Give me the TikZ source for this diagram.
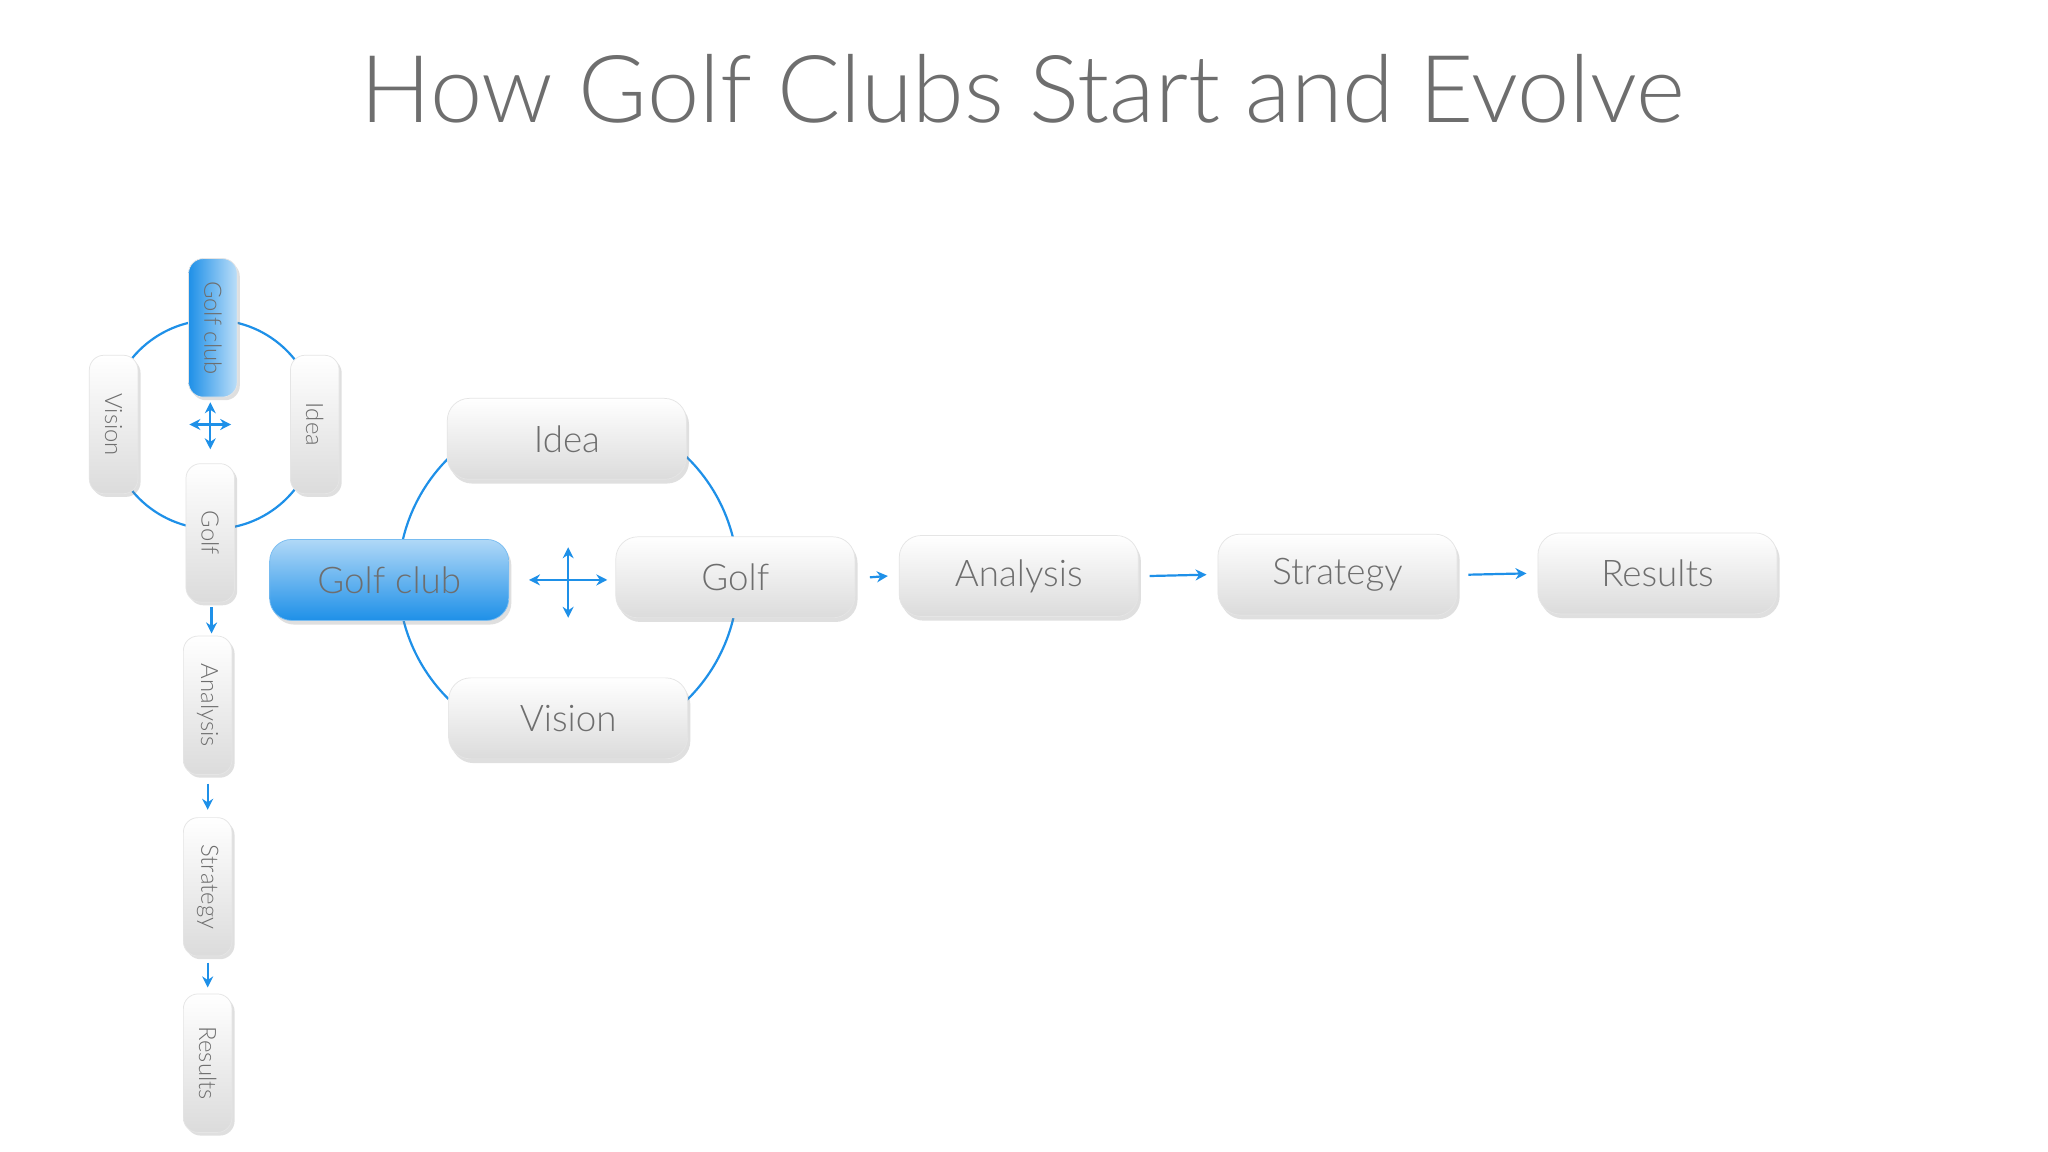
\documentclass[tikz,border=0pt]{standalone}
\usepackage{fontspec}
\setmainfont{Lato Light}
\usetikzlibrary{shadows,arrows.meta,calc}
\definecolor{txt}{HTML}{6E6E6E}
\definecolor{bl}{HTML}{1E90E8}
\tikzset{
 box/.style={rounded corners=12pt, minimum width=4.575cm, minimum height=1.55cm, top color=white, bottom color=gray!28, draw=gray!20, drop shadow={opacity=0.25,shadow xshift=0.05cm,shadow yshift=-0.08cm}, text=txt, font=\fontsize{20}{24}\selectfont},
 bluebox/.style={box, top color=bl!35, bottom color=bl, draw=bl!60, text=txt},
 sbox/.style={rounded corners=8pt, minimum width=2.65cm, minimum height=0.93cm, top color=white, bottom color=gray!28, draw=gray!20, drop shadow={opacity=0.25,shadow xshift=0.05cm,shadow yshift=-0.06cm}, text=txt, font=\fontsize{13}{15}\selectfont, rotate=-90},
 sbluebox/.style={sbox, left color=bl, right color=bl!30},
 conn/.style={bl, line width=1.2pt},
 arr/.style={conn, -{Stealth[length=6pt,width=6pt]}},
 darr/.style={conn, {Stealth[length=6pt,width=6pt]}-{Stealth[length=6pt,width=6pt]}},
}
\begin{document}
\begin{tikzpicture}[x=0.025cm,y=-0.025cm]
\useasboundingbox[fill=white] (0,0) rectangle (1568,882);
\node[text=txt,font=\fontsize{51}{60}\selectfont] (title) at (783,68) {How Golf Clubs Start and Evolve};
% big diagram
\draw[conn] (435,443) circle (130);
\draw[conn] (163,325) circle (80);
\node[bluebox] (gc) at (298,444) {Golf club};
\node[box] (idea) at (434,336) {Idea};
\node[box] (golf) at (563,442) {Golf};
\node[box] (vision) at (435,550) {Vision};
\node[box] (ana) at (780,441) {Analysis};
\node[box] (str) at (1024,440) {Strategy};
\node[box] (res) at (1269,439) {Results};
\coordinate (cl) at (405,444); \coordinate (cr) at (465,444);
\coordinate (ct) at (435,419); \coordinate (cb) at (435,473);
\draw[darr] (cl) -- (cr);
\draw[darr] (ct) -- (cb);
\draw[arr] ([xshift=8]golf.east) -- ([xshift=-6]ana.west);
\draw[arr] ([xshift=6]ana.east) -- ([xshift=-6]str.west);
\draw[arr] ([xshift=6]str.east) -- ([xshift=-6]res.west);
% small diagram
\node[sbluebox] (sgc) at (163,251) {Golf club};
\node[sbox] (svis) at (87,325) {Vision};
\node[sbox] (sidea) at (241,325) {Idea};
\node[sbox] (sgolf) at (161,408) {Golf};
\node[sbox] (sana) at (159,540) {Analysis};
\node[sbox] (sstr) at (159,679) {Strategy};
\node[sbox] (sres) at (159,814) {Results};
\coordinate (sl) at (145,325); \coordinate (sr) at (177,325);
\coordinate (st) at (161,308); \coordinate (sb) at (161,344);
\draw[darr] (sl) -- (sr);
\draw[darr] (st) -- (sb);
\draw[arr] ($(sgolf.center)+(1,57)$) -- ($(sana.center)+(3,-55)$);
\draw[arr] ($(sana.center)+(0,60)$) -- ($(sstr.center)+(0,-59)$);
\draw[arr] ($(sstr.center)+(0,58)$) -- ($(sres.center)+(0,-58)$);
\end{tikzpicture}
\end{document}
